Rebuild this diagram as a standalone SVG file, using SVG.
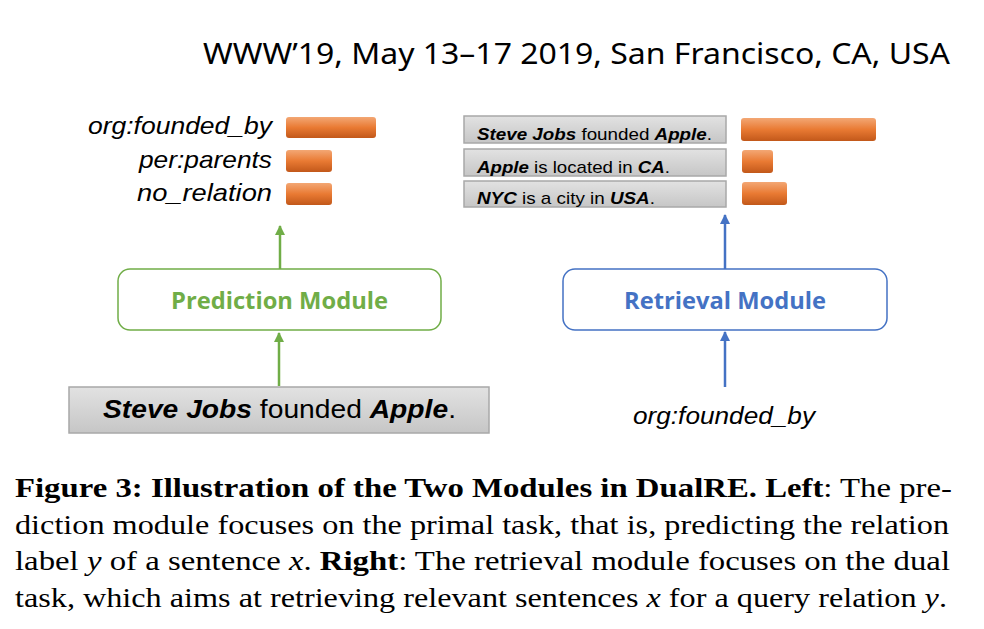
<svg xmlns="http://www.w3.org/2000/svg" width="984" height="629" viewBox="0 0 984 629">
<defs>
<linearGradient id="og" x1="0" y1="0" x2="0" y2="1">
<stop offset="0" stop-color="#F3A774"/>
<stop offset="0.5" stop-color="#E97A33"/>
<stop offset="1" stop-color="#C2581A"/>
</linearGradient>
<linearGradient id="gg" x1="0" y1="0" x2="0" y2="1">
<stop offset="0" stop-color="#E2E2E2"/>
<stop offset="1" stop-color="#C6C6C6"/>
</linearGradient>
<marker id="ag" viewBox="0 0 10 10" refX="9" refY="5" markerWidth="4" markerHeight="4" markerUnits="strokeWidth" orient="auto">
<path d="M0,0 L10,5 L0,10 z" fill="#70AD47"/>
</marker>
<marker id="ab" viewBox="0 0 10 10" refX="9" refY="5" markerWidth="4" markerHeight="4" markerUnits="strokeWidth" orient="auto">
<path d="M0,0 L10,5 L0,10 z" fill="#4472C4"/>
</marker>
</defs>
<style>
.bar{fill:url(#og);}
.gbox{fill:url(#gg);stroke:#A8A8A8;stroke-width:1.5;}
.lbl{font-family:"Liberation Sans",Arial,sans-serif;font-style:italic;font-size:24px;fill:#000;}
.sent{font-family:"Liberation Sans",Arial,sans-serif;fill:#000;}
.b{font-weight:bold;font-style:italic;}
.mod{font-family:"Open Sans","Liberation Sans",sans-serif;font-weight:bold;font-size:24px;}
.cap{font-family:"Liberation Serif","Times New Roman",serif;font-size:28px;fill:#000;}
.hdr{font-family:"Noto Sans","Liberation Sans",sans-serif;font-size:29px;fill:#000;}
</style>
<rect width="984" height="629" fill="#fff"/>

<text class="hdr" x="950" y="64" text-anchor="end" textLength="747" lengthAdjust="spacingAndGlyphs">WWW’19, May 13–17 2019, San Francisco, CA, USA</text>

<g id="left-scores">
<text class="lbl" x="272" y="134" text-anchor="end" textLength="184" lengthAdjust="spacingAndGlyphs">org:founded_by</text>
<text class="lbl" x="272" y="168" text-anchor="end" textLength="133" lengthAdjust="spacingAndGlyphs">per:parents</text>
<text class="lbl" x="272" y="201" text-anchor="end" textLength="135" lengthAdjust="spacingAndGlyphs">no_relation</text>
<rect class="bar" x="286" y="117" width="90" height="21" rx="3"/>
<rect class="bar" x="286" y="150" width="46" height="22" rx="3"/>
<rect class="bar" x="286" y="183" width="46" height="22" rx="3"/>
</g>

<g id="right-scores">
<rect class="gbox" x="464" y="116" width="262" height="27"/>
<rect class="gbox" x="464" y="149" width="262" height="27"/>
<rect class="gbox" x="464" y="181" width="262" height="26"/>
<text class="sent" x="477" y="140" font-size="17" textLength="235" lengthAdjust="spacingAndGlyphs"><tspan class="b">Steve Jobs</tspan> founded <tspan class="b">Apple</tspan>.</text>
<text class="sent" x="477" y="173" font-size="17" textLength="193" lengthAdjust="spacingAndGlyphs"><tspan class="b">Apple</tspan> is located in <tspan class="b">CA</tspan>.</text>
<text class="sent" x="477" y="204" font-size="17" textLength="178" lengthAdjust="spacingAndGlyphs"><tspan class="b">NYC</tspan> is a city in <tspan class="b">USA</tspan>.</text>
<rect class="bar" x="741" y="118" width="135" height="23" rx="3"/>
<rect class="bar" x="742" y="150" width="31" height="23" rx="3"/>
<rect class="bar" x="742" y="182" width="45" height="23" rx="3"/>
</g>

<g id="prediction-module">
<rect x="118" y="269" width="323" height="61" rx="12" fill="#fff" stroke="#70AD47" stroke-width="1.5"/>
<text class="mod" x="279.5" y="309" text-anchor="middle" fill="#70AD47" textLength="217" lengthAdjust="spacingAndGlyphs">Prediction Module</text>
</g>

<g id="retrieval-module">
<rect x="563" y="269" width="324" height="61" rx="12" fill="#fff" stroke="#4472C4" stroke-width="1.5"/>
<text class="mod" x="725" y="309" text-anchor="middle" fill="#4472C4" textLength="202" lengthAdjust="spacingAndGlyphs">Retrieval Module</text>
</g>

<g id="input-sentence">
<rect class="gbox" x="69" y="387" width="420" height="46"/>
<text class="sent" x="103" y="418" font-size="25" textLength="353" lengthAdjust="spacingAndGlyphs"><tspan class="b">Steve Jobs</tspan> founded <tspan class="b">Apple</tspan>.</text>
</g>

<g id="query-relation">
<text class="lbl" x="724" y="424" text-anchor="middle" textLength="182" lengthAdjust="spacingAndGlyphs">org:founded_by</text>
</g>

<g id="connectors" fill="none" stroke-width="2.5">
<line x1="280" y1="269" x2="280" y2="226" stroke="#70AD47" marker-end="url(#ag)"/>
<line x1="279" y1="386" x2="279" y2="333" stroke="#70AD47" marker-end="url(#ag)"/>
<line x1="725" y1="269" x2="725" y2="215" stroke="#4472C4" marker-end="url(#ab)"/>
<line x1="725" y1="387" x2="725" y2="332" stroke="#4472C4" marker-end="url(#ab)"/>
</g>

<g id="caption">
<text class="cap" x="15" y="497" textLength="937" lengthAdjust="spacingAndGlyphs"><tspan font-weight="bold">Figure 3: Illustration of the Two Modules in DualRE. Left</tspan>: The pre-</text>
<text class="cap" x="15" y="534" textLength="934" lengthAdjust="spacingAndGlyphs">diction module focuses on the primal task, that is, predicting the relation</text>
<text class="cap" x="15" y="570" textLength="935" lengthAdjust="spacingAndGlyphs">label <tspan font-style="italic">y</tspan> of a sentence <tspan font-style="italic">x</tspan>. <tspan font-weight="bold">Right</tspan>: The retrieval module focuses on the dual</text>
<text class="cap" x="15" y="607" textLength="932" lengthAdjust="spacingAndGlyphs">task, which aims at retrieving relevant sentences <tspan font-style="italic">x</tspan> for a query relation <tspan font-style="italic">y</tspan>.</text>
</g>
</svg>
